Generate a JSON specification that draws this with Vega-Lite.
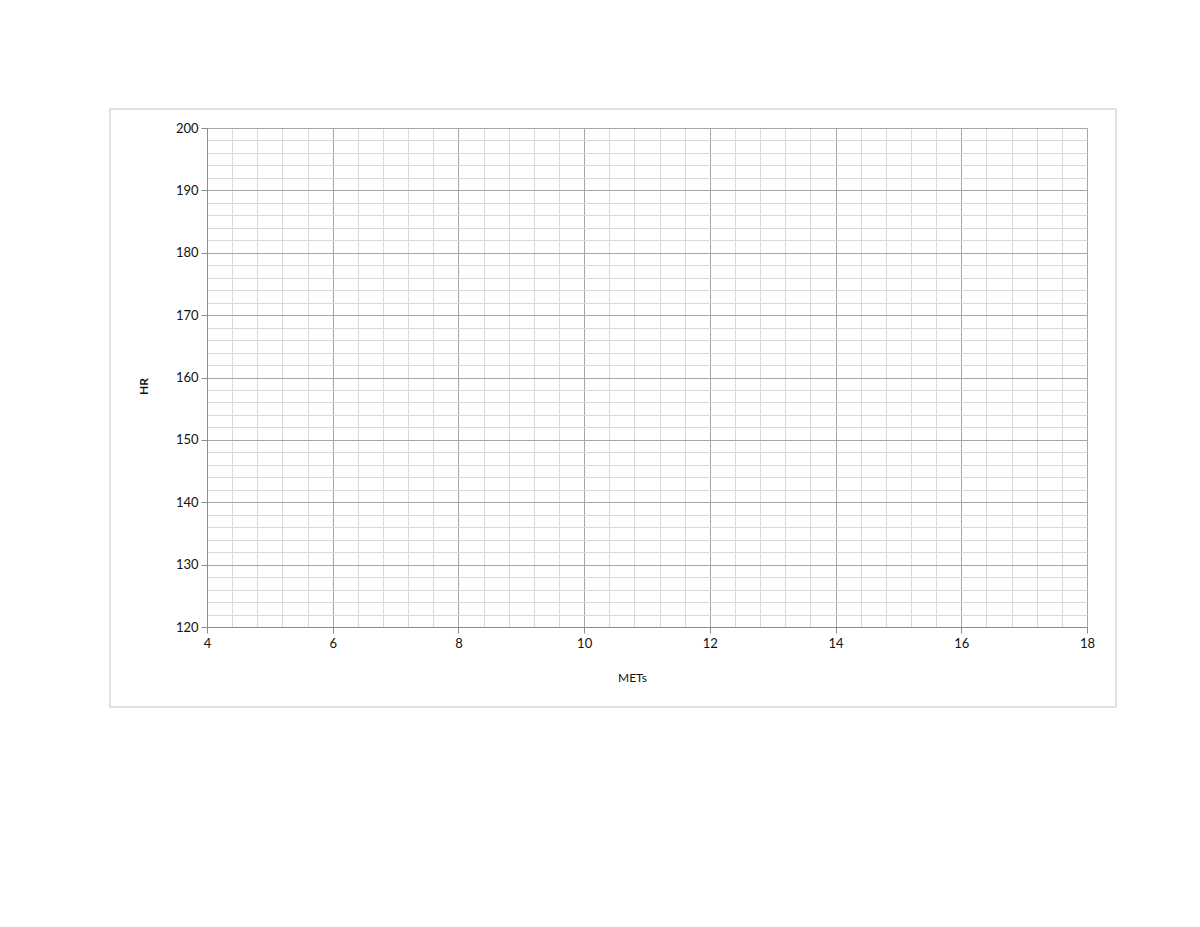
{
  "$schema": "https://vega.github.io/schema/vega-lite/v6.json",
  "autosize": "none",
  "width": 880,
  "height": 499,
  "padding": {"left": 207, "top": 128, "right": 113, "bottom": 300},
  "background": "white",
  "data": {"values": []},
  "layer": [
    {
      "data": {"values": [{}]},
      "mark": {"type": "rect", "fill": null, "stroke": "#d9d9d9", "strokeWidth": 1.5, "clip": false},
      "encoding": {
        "x": {"datum": 2.457, "type": "quantitative", "axis": null},
        "x2": {"datum": 18.461},
        "y": {"datum": 107.17, "type": "quantitative", "axis": null},
        "y2": {"datum": 203.05}
      }
    },
    {
      "mark": {"type": "point", "opacity": 0},
      "encoding": {
        "x": {
          "field": "METs",
          "type": "quantitative",
          "scale": {"domain": [4, 18], "nice": false, "zero": false},
          "axis": {
            "orient": "bottom",
            "values": [4.4, 4.8, 5.2, 5.6, 6.4, 6.8, 7.2, 7.6, 8.4, 8.8, 9.2, 9.6, 10.4, 10.8, 11.2, 11.6, 12.4, 12.8, 13.2, 13.6, 14.4, 14.8, 15.2, 15.6, 16.4, 16.8, 17.2, 17.6],
            "grid": true,
            "gridColor": "#d9d9d9",
            "labels": false,
            "ticks": false,
            "domain": false,
            "title": null
          }
        },
        "y": {
          "field": "HR",
          "type": "quantitative",
          "scale": {"domain": [120, 200], "nice": false, "zero": false},
          "axis": {
            "orient": "left",
            "values": [122, 124, 126, 128, 132, 134, 136, 138, 142, 144, 146, 148, 152, 154, 156, 158, 162, 164, 166, 168, 172, 174, 176, 178, 182, 184, 186, 188, 192, 194, 196, 198],
            "grid": true,
            "gridColor": "#d9d9d9",
            "labels": false,
            "ticks": false,
            "domain": false,
            "title": null
          }
        }
      }
    },
    {
      "mark": {"type": "point", "opacity": 0},
      "encoding": {
        "x": {
          "field": "METs",
          "type": "quantitative",
          "axis": {
            "orient": "bottom",
            "values": [4, 6, 8, 10, 12, 14, 16, 18],
            "grid": true,
            "gridColor": "#a6a6a6",
            "domainColor": "#8c8c8c",
            "tickColor": "#8c8c8c",
            "tickSize": 6,
            "labelPadding": 4,
            "labelFlush": false,
            "title": "METs",
            "titleX": 425,
            "titleY": 50,
            "titleAlign": "center",
            "titleBaseline": "middle",
            "titleFontWeight": "normal"
          }
        },
        "y": {
          "field": "HR",
          "type": "quantitative",
          "axis": {
            "orient": "left",
            "values": [120, 130, 140, 150, 160, 170, 180, 190, 200],
            "grid": true,
            "gridColor": "#a6a6a6",
            "domainColor": "#8c8c8c",
            "tickColor": "#8c8c8c",
            "tickSize": 6,
            "labelPadding": 3,
            "labelFlush": false,
            "title": "HR",
            "titleX": -64,
            "titleY": 258,
            "titleAngle": -90,
            "titleAlign": "center",
            "titleBaseline": "middle",
            "titleFontWeight": "bold"
          }
        }
      }
    }
  ],
  "resolve": {"axis": {"x": "independent", "y": "independent"}},
  "config": {
    "font": "Lato",
    "view": {"stroke": null},
    "axis": {
      "labelFont": "Lato",
      "labelFontSize": 13,
      "labelColor": "#111111",
      "titleFont": "Lato",
      "titleFontSize": 12,
      "titleColor": "#111111",
      "gridWidth": 1,
      "domainWidth": 1,
      "tickWidth": 1
    }
  }
}
